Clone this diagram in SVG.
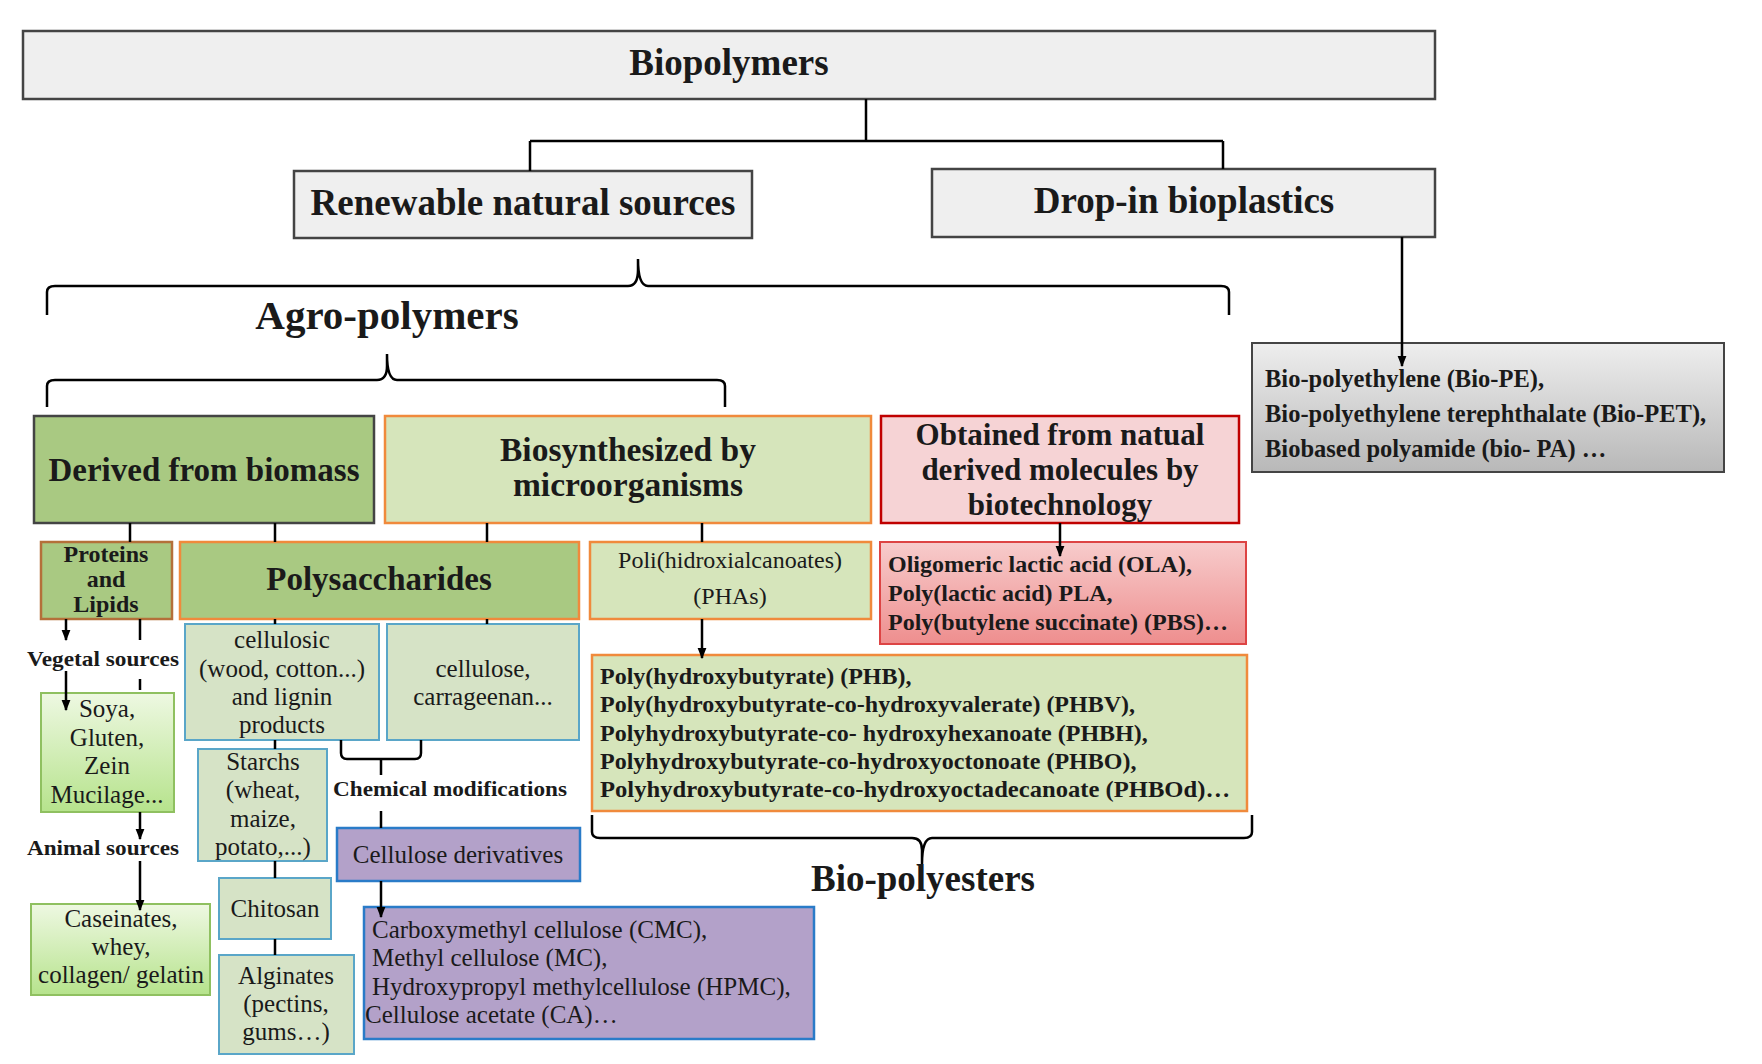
<svg xmlns="http://www.w3.org/2000/svg" width="1762" height="1064" viewBox="0 0 1762 1064">
<style>
text{font-family:"Liberation Serif","DejaVu Serif",serif;fill:#1a1a1a}
.b{font-weight:bold}
.c{text-anchor:middle}
.ln{stroke:#000;stroke-width:2.5;fill:none}
.gray{fill:#efefef;stroke:#444;stroke-width:2.5}
.dg{fill:#a9c982;stroke:#444;stroke-width:2.5}
.dgo{fill:#a9c982;stroke:#f08a3c;stroke-width:2.5}
.lg{fill:#d6e5bb;stroke:#f08a3c;stroke-width:2.5}
.lb{fill:#d6e3c6;stroke:#5aa6c8;stroke-width:2}
.pu{fill:#b3a1c9;stroke:#2a7bc8;stroke-width:2.5}
</style>
<defs>
<marker id="ar" viewBox="0 0 10 10" refX="9" refY="5" markerUnits="userSpaceOnUse" markerWidth="11" markerHeight="11" orient="auto"><path d="M0,1L10,5L0,9z" fill="#000"/></marker>
<linearGradient id="gg" x1="0" y1="0" x2="0" y2="1"><stop offset="0" stop-color="#eeeeee"/><stop offset="1" stop-color="#b8b8b8"/></linearGradient>
<linearGradient id="pg" x1="0" y1="0" x2="0" y2="1"><stop offset="0" stop-color="#f7cccc"/><stop offset="1" stop-color="#ee8e8e"/></linearGradient>
<linearGradient id="fg" x1="0" y1="0" x2="0" y2="1"><stop offset="0" stop-color="#eef8e2"/><stop offset="1" stop-color="#b6e38c"/></linearGradient>
</defs>
<g id="biopolymers"><rect class="gray" x="23" y="31" width="1412" height="68"/><text class="b c" x="729" y="75" font-size="37">Biopolymers</text></g>
<g id="renewable"><rect class="gray" x="294" y="171" width="458" height="67"/><text class="b c" x="523" y="215" font-size="37">Renewable natural sources</text></g>
<g id="dropin"><rect class="gray" x="932" y="169" width="503" height="68"/><text class="b c" x="1184" y="213" font-size="37">Drop-in bioplastics</text></g>
<g id="biope"><rect x="1252" y="343" width="472" height="129" fill="url(#gg)" stroke="#444" stroke-width="2"/>
<text x="1265" y="387" font-size="24.5" class="b" fill="#333">Bio-polyethylene (Bio-PE),</text>
<text x="1265" y="422" font-size="24.5" class="b">Bio-polyethylene terephthalate (Bio-PET),</text>
<text x="1265" y="457" font-size="24.5" class="b">Biobased polyamide (bio- PA) …</text></g>
<g id="agro"><text class="b c" x="387" y="329" font-size="41">Agro-polymers</text></g>
<g id="derived"><rect class="dg" x="34" y="416" width="340" height="107"/><text class="b c" x="204" y="481" font-size="33">Derived from biomass</text></g>
<g id="biosynth"><rect class="lg" x="385" y="416" width="486" height="107"/><text class="b c" x="628" y="461" font-size="33.5">Biosynthesized by</text><text class="b c" x="628" y="496" font-size="33.5">microorganisms</text></g>
<g id="obtained"><rect x="881" y="416" width="358" height="107" fill="#f6d3d5" stroke="#c00000" stroke-width="2.5"/><text class="b c" x="1060" y="445" font-size="31">Obtained from natual</text><text class="b c" x="1060" y="480" font-size="31">derived molecules by</text><text class="b c" x="1060" y="515" font-size="31">biotechnology</text></g>
<g id="proteins"><rect x="41" y="542" width="131" height="77" fill="#a9c982" stroke="#b4703a" stroke-width="2.5"/><text class="b c" x="106" y="562" font-size="24">Proteins</text><text class="b c" x="106" y="587" font-size="24">and</text><text class="b c" x="106" y="612" font-size="24">Lipids</text></g>
<g id="polysacch"><rect class="dgo" x="180" y="542" width="399" height="77"/><text class="b c" x="379" y="590" font-size="33">Polysaccharides</text></g>
<g id="phas"><rect class="lg" x="590" y="542" width="281" height="77"/><text class="c" x="730" y="568" font-size="24" fill="#333">Poli(hidroxialcanoates)</text><text class="c" x="730" y="604" font-size="24" fill="#333">(PHAs)</text></g>
<g id="ola"><rect x="880" y="542" width="366" height="102" fill="url(#pg)" stroke="#d44" stroke-width="2"/><text class="b" x="888" y="572" font-size="24">Oligomeric lactic acid (OLA),</text><text class="b" x="888" y="601" font-size="24">Poly(lactic acid) PLA,</text><text class="b" x="888" y="630" font-size="24">Poly(butylene succinate) (PBS)…</text></g>
<g id="phb"><rect class="lg" x="592" y="655" width="655" height="156"/>
<text class="b" x="600" y="684" font-size="24">Poly(hydroxybutyrate) (PHB),</text>
<text class="b" x="600" y="712" font-size="24">Poly(hydroxybutyrate-co-hydroxyvalerate) (PHBV),</text>
<text class="b" x="600" y="741" font-size="24">Polyhydroxybutyrate-co- hydroxyhexanoate (PHBH),</text>
<text class="b" x="600" y="769" font-size="24">Polyhydroxybutyrate-co-hydroxyoctonoate (PHBO),</text>
<text class="b" x="600" y="797" font-size="24" textLength="630" lengthAdjust="spacingAndGlyphs">Polyhydroxybutyrate-co-hydroxyoctadecanoate (PHBOd)…</text></g>
<g id="biopolyesters"><text class="b c" x="923" y="891" font-size="37">Bio-polyesters</text></g>
<g id="vegetal"><text class="b c" x="103" y="666" font-size="21" textLength="152" lengthAdjust="spacingAndGlyphs">Vegetal sources</text></g>
<g id="soya"><rect x="41" y="693" width="133" height="119" fill="url(#fg)" stroke="#8fc060" stroke-width="2"/><text class="c" x="107" y="717" font-size="25">Soya,</text><text class="c" x="107" y="746" font-size="25">Gluten,</text><text class="c" x="107" y="774" font-size="25">Zein</text><text class="c" x="107" y="803" font-size="25">Mucilage...</text></g>
<g id="animal"><text class="b c" x="103" y="855" font-size="21" textLength="152" lengthAdjust="spacingAndGlyphs">Animal sources</text></g>
<g id="caseinates"><rect x="31" y="904" width="179" height="91" fill="url(#fg)" stroke="#8fc060" stroke-width="2"/><text class="c" x="121" y="927" font-size="25">Caseinates,</text><text class="c" x="121" y="955" font-size="25">whey,</text><text class="c" x="121" y="983" font-size="25">collagen/ gelatin</text></g>
<g id="cellulosic"><rect class="lb" x="185" y="624" width="194" height="116"/><text class="c" x="282" y="648" font-size="25">cellulosic</text><text class="c" x="282" y="677" font-size="25">(wood, cotton...)</text><text class="c" x="282" y="705" font-size="25">and lignin</text><text class="c" x="282" y="733" font-size="25">products</text></g>
<g id="carrageenan"><rect class="lb" x="387" y="624" width="192" height="116"/><text class="c" x="483" y="677" font-size="25">cellulose,</text><text class="c" x="483" y="705" font-size="25">carrageenan...</text></g>
<g id="starchs"><rect class="lb" x="198" y="749" width="129" height="112" stroke="#7a9ab0"/><text class="c" x="263" y="770" font-size="25">Starchs</text><text class="c" x="263" y="798" font-size="25">(wheat,</text><text class="c" x="263" y="827" font-size="25">maize,</text><text class="c" x="263" y="855" font-size="25">potato,...)</text></g>
<g id="chitosan"><rect class="lb" x="219" y="878" width="112" height="61" stroke="#a8b8a0"/><text class="c" x="275" y="917" font-size="25">Chitosan</text></g>
<g id="alginates"><rect class="lb" x="219" y="955" width="135" height="99" stroke="#a8b8a0"/><text class="c" x="286" y="984" font-size="25">Alginates</text><text class="c" x="286" y="1012" font-size="25">(pectins,</text><text class="c" x="286" y="1040" font-size="25">gums…)</text></g>
<g id="chemmod"><text class="b c" x="450" y="796" font-size="21" textLength="234" lengthAdjust="spacingAndGlyphs">Chemical modifications</text></g>
<g id="cellderiv"><rect class="pu" x="337" y="828" width="243" height="53"/><text class="c" x="458" y="863" font-size="25">Cellulose derivatives</text></g>
<g id="cmc"><rect class="pu" x="364" y="907" width="450" height="132"/><text x="372" y="938" font-size="25">Carboxymethyl cellulose (CMC),</text><text x="372" y="966" font-size="25">Methyl cellulose (MC),</text><text x="372" y="995" font-size="25">Hydroxypropyl methylcellulose (HPMC),</text><text x="365" y="1023" font-size="25">Cellulose acetate (CA)…</text></g>
<g id="connectors">
<path class="ln" d="M866,99V141M530,141H1223M530,141V171M1223,141V169"/>
<path class="ln" d="M1402,237V366" marker-end="url(#ar)"/>
<path class="ln" d="M47,315V292Q47,286 55,286H628Q638,286 638,270V259Q638,286 648,286H1221Q1229,286 1229,292V315"/>
<path class="ln" d="M47,407V386Q47,380 55,380H377Q387,380 387,366V354Q387,380 397,380H717Q725,380 725,386V407"/>
<path class="ln" d="M592,815V832Q592,838 600,838H912Q922,838 922,850V864Q922,838 932,838H1244Q1252,838 1252,832V815"/>
<path class="ln" d="M130,523V542M275,523V542M487,523V542M702,523V542"/>
<path class="ln" d="M1060,523V556" marker-end="url(#ar)"/>
<path class="ln" d="M702,619V658" marker-end="url(#ar)"/>
<path class="ln" d="M66,619V640" marker-end="url(#ar)"/>
<path class="ln" d="M140,619V640M140,679V690"/>
<path class="ln" d="M66,671V710" marker-end="url(#ar)"/>
<path class="ln" d="M140,812V839" marker-end="url(#ar)"/>
<path class="ln" d="M140,861V910" marker-end="url(#ar)"/>
<path class="ln" d="M275,619V624M487,619V624M275,740V749M275,861V878M275,939V955"/>
<path class="ln" d="M341,740V753Q341,759 347,759H415Q421,759 421,753V740M381,759V775"/>
<path class="ln" d="M381,811V828"/>
<path class="ln" d="M381,881V917" marker-end="url(#ar)"/>
</g>
</svg>
